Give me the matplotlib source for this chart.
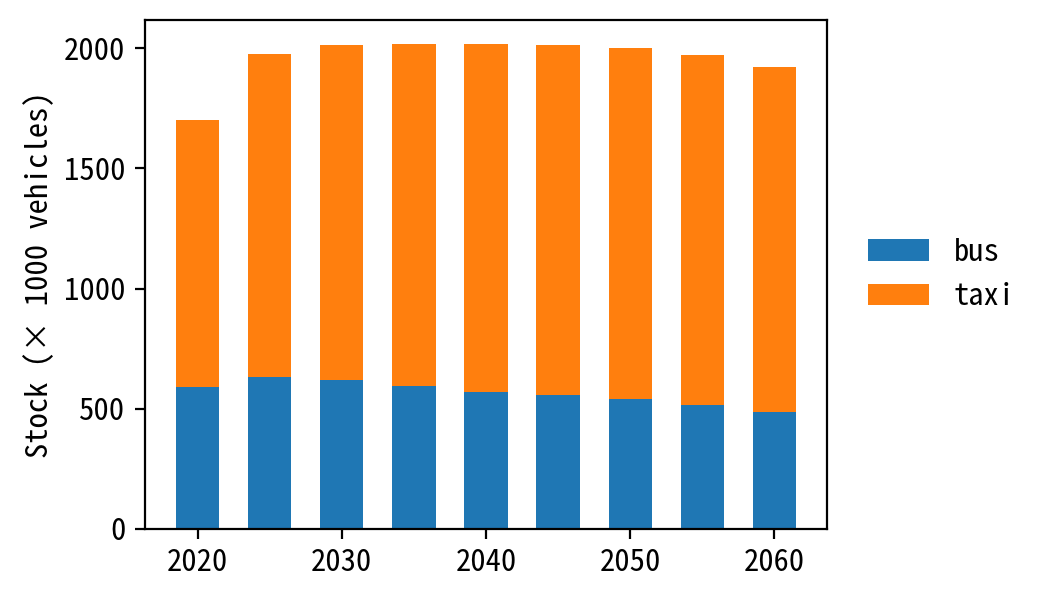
import matplotlib
matplotlib.use("Agg")
import matplotlib.pyplot as plt

plt.rcParams['font.family'] = ['Noto Sans Mono CJK SC', 'Noto Sans CJK SC', 'DejaVu Sans']
plt.rcParams['font.size'] = 11

# stock by year, thousand vehicles
years = [2020, 2025, 2030, 2035, 2040, 2045, 2050, 2055, 2060]
bus = [589, 633, 618, 593, 572, 557, 539, 518, 486]
total = [1703, 1975, 2012, 2017, 2017, 2012, 2000, 1971, 1924]
taxi = [t - b for t, b in zip(total, bus)]

fig = plt.figure(figsize=(5.25, 2.99), dpi=200)
ax = fig.add_axes([145 / 1050, 1 - 529 / 598, (827 - 145) / 1050, (529 - 20) / 598])

ax.bar(years, bus, width=3, color='#1f77b4', label='bus')
ax.bar(years, taxi, width=3, bottom=bus, color='#ff7f0e', label='taxi')

ax.set_ylabel('Stock (× 1000 vehicles)')
ax.set_xticks([2020, 2030, 2040, 2050, 2060])
ax.set_yticks([0, 500, 1000, 1500, 2000])
ax.legend(loc='center left', bbox_to_anchor=(1.02, 0.5), frameon=False)

fig.savefig('out.png', dpi=200)
